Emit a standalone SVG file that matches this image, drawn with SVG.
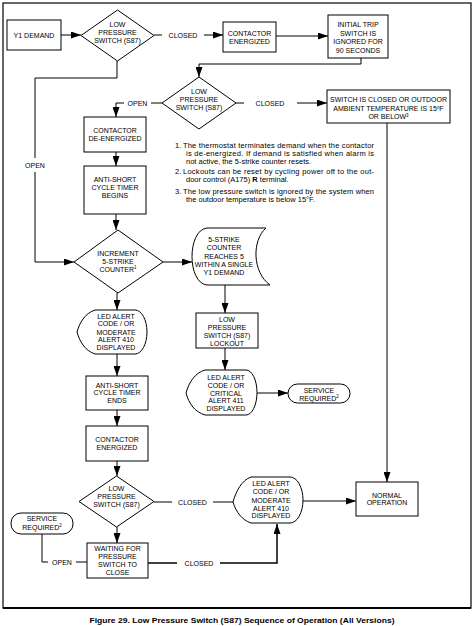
<svg xmlns="http://www.w3.org/2000/svg" width="474" height="626" viewBox="0 0 474 626">
<style>
.s{fill:#fff;stroke:#000;stroke-width:1}
.t{font-family:"Liberation Sans",Arial,sans-serif;font-size:7px;fill:#000;text-anchor:middle}
.n{font-family:"Liberation Sans",Arial,sans-serif;font-size:7.5px;fill:#000}
.c{fill:none;stroke:#000;stroke-width:1}
.k{fill:none;stroke:#000;stroke-width:1.5}
</style>
<defs>
<marker id="a" markerUnits="userSpaceOnUse" markerWidth="10" markerHeight="7" refX="10" refY="3.5" orient="auto"><path d="M0,0 L10,3.5 L0,7 Z" fill="#000"/></marker>
</defs>
<rect width="474" height="626" fill="#fff"/>
<rect x="3" y="3" width="468" height="605" fill="none" stroke="#000" stroke-width="1.2"/>
<line x1="3" y1="608" x2="471" y2="608" stroke="#000" stroke-width="1.8"/>

<g id="connectors">
<line class="c" x1="61" y1="35" x2="81" y2="35" marker-end="url(#a)"/>
<line class="c" x1="154" y1="35" x2="162" y2="35"/>
<line class="c" x1="204" y1="35" x2="223" y2="35" marker-end="url(#a)"/>
<line class="c" x1="276" y1="36" x2="328" y2="36" marker-end="url(#a)"/>
<polyline class="c" points="361,58 361,64 199,64 199,77" marker-end="url(#a)"/>
<line class="c" x1="162" y1="103" x2="151" y2="103"/>
<polyline class="c" points="124,103 116,103 116,117" marker-end="url(#a)"/>
<line class="c" x1="236" y1="103" x2="244" y2="103"/>
<line class="c" x1="297" y1="103" x2="327" y2="103" marker-end="url(#a)"/>
<line class="c" x1="387" y1="123" x2="387" y2="482" marker-end="url(#a)"/>
<polyline class="c" points="117,61 117,78 35,78 35,158"/>
<polyline class="c" points="35,172 35,262 74,262" marker-end="url(#a)"/>
<line class="c" x1="116" y1="152" x2="116" y2="166" marker-end="url(#a)"/>
<line class="c" x1="116" y1="214" x2="116" y2="230" marker-end="url(#a)"/>
<line class="c" x1="163" y1="262" x2="192" y2="262" marker-end="url(#a)"/>
<line class="c" x1="117" y1="293" x2="117" y2="310" marker-end="url(#a)"/>
<line class="c" x1="225" y1="285" x2="225" y2="313" marker-end="url(#a)"/>
<line class="c" x1="225" y1="348" x2="225" y2="370" marker-end="url(#a)"/>
<line class="c" x1="256" y1="393" x2="288" y2="393" marker-end="url(#a)"/>
<line class="c" x1="117" y1="354" x2="117" y2="376" marker-end="url(#a)"/>
<line class="c" x1="117" y1="410" x2="117" y2="426" marker-end="url(#a)"/>
<line class="c" x1="117" y1="461" x2="117" y2="476" marker-end="url(#a)"/>
<line class="c" x1="154" y1="502" x2="172" y2="502"/>
<line class="c" x1="213" y1="502" x2="233" y2="502"/>
<line class="c" x1="303" y1="501" x2="356" y2="501" marker-end="url(#a)"/>
<line class="c" x1="117" y1="527" x2="117" y2="543" marker-end="url(#a)"/>
<line class="c" x1="87" y1="562" x2="76" y2="562"/>
<polyline class="c" points="48,562 42,562 42,534"/>
<line class="k" x1="148" y1="563" x2="177" y2="563"/>
<polyline class="k" points="220,563 277,563 277,524" marker-end="url(#a)"/>
<text class="t" x="183" y="37.5">CLOSED</text>
<text class="t" x="137.5" y="105.5">OPEN</text>
<text class="t" x="270" y="105.5">CLOSED</text>
<text class="t" x="35" y="167.5">OPEN</text>
<text class="t" x="192.5" y="504.5">CLOSED</text>
<text class="t" x="62" y="564.5">OPEN</text>
<text class="t" x="199" y="565.5">CLOSED</text>
</g>

<g id="y1demand">
<rect class="s" x="7" y="20" width="54" height="30"/>
<text class="t" x="34" y="37.5">Y1 DEMAND</text>
</g>
<g id="lps1">
<polygon class="s" points="117.5,10 154,35.5 117.5,61 81,35.5"/>
<text class="t" x="117.5" y="27">LOW</text>
<text class="t" x="117.5" y="35">PRESSURE</text>
<text class="t" x="117.5" y="43">SWITCH (S87)</text>
</g>
<g id="contactor1">
<rect class="s" x="223" y="22" width="53" height="30"/>
<text class="t" x="249.5" y="35.5">CONTACTOR</text>
<text class="t" x="249.5" y="43.5">ENERGIZED</text>
</g>
<g id="initialtrip">
<rect class="s" x="328" y="15" width="60" height="43"/>
<text class="t" x="358" y="27">INITIAL TRIP</text>
<text class="t" x="358" y="35.5">SWITCH IS</text>
<text class="t" x="358" y="44">IGNORED FOR</text>
<text class="t" x="358" y="52.5">90 SECONDS</text>
</g>
<g id="lps2">
<polygon class="s" points="199,77 236,103 199,129 162,103"/>
<text class="t" x="199" y="93.5">LOW</text>
<text class="t" x="199" y="101.5">PRESSURE</text>
<text class="t" x="199" y="109.5">SWITCH (S87)</text>
</g>
<g id="switchclosed">
<rect class="s" x="327" y="90" width="123" height="33"/>
<text class="t" x="388.5" y="102">SWITCH IS CLOSED OR OUTDOOR</text>
<text class="t" x="388.5" y="110.5">AMBIENT TEMPERATURE IS 15ºF</text>
<text class="t" x="388.5" y="119">OR BELOW<tspan font-size="4.5" dy="-2.5">3</tspan></text>
</g>
<g id="deenergized">
<rect class="s" x="84" y="117" width="62" height="35"/>
<text class="t" x="115" y="133">CONTACTOR</text>
<text class="t" x="115" y="141">DE-ENERGIZED</text>
</g>
<g id="asctbegins">
<rect class="s" x="84" y="166" width="62" height="48"/>
<text class="t" x="115" y="181.5">ANTI-SHORT</text>
<text class="t" x="115" y="189.5">CYCLE TIMER</text>
<text class="t" x="115" y="197.5">BEGINS</text>
</g>
<g id="notes">
<text class="n" x="175" y="147.5">1.</text>
<text class="n" x="183" y="147.5" textLength="191" lengthAdjust="spacing">The thermostat terminates demand when the contactor</text>
<text class="n" x="186" y="156" textLength="188" lengthAdjust="spacing">is de-energized. If demand is satisfied when alarm is</text>
<text class="n" x="186" y="164">not active, the 5-strike counter resets.</text>
<text class="n" x="175" y="174">2.</text>
<text class="n" x="183" y="174" textLength="191" lengthAdjust="spacing">Lockouts can be reset by cycling power off to the out-</text>
<text class="n" x="186" y="182">door control (A175) <tspan font-weight="bold">R</tspan> terminal.</text>
<text class="n" x="175" y="193.5">3.</text>
<text class="n" x="183" y="193.5" textLength="191" lengthAdjust="spacing">The low pressure switch is ignored by the system when</text>
<text class="n" x="186" y="201.5">the outdoor temperature is below 15°F.</text>
</g>
<g id="increment">
<polygon class="s" points="118,230 163,262 118,293 74,262"/>
<text class="t" x="118" y="255.5">INCREMENT</text>
<text class="t" x="118" y="263.5">5-STRIKE</text>
<text class="t" x="118" y="271.5">COUNTER<tspan font-size="4.5" dy="-2.5">1</tspan></text>
</g>
<g id="fivestrike">
<path class="s" d="M207,228 L266,228 C252,240 252,272 270,285 L207,285 C187,283 187,230 207,228 Z"/>
<text class="t" x="224" y="241.5">5-STRIKE</text>
<text class="t" x="224" y="250">COUNTER</text>
<text class="t" x="224" y="258.5">REACHES 5</text>
<text class="t" x="224" y="267">WITHIN A SINGLE</text>
<text class="t" x="224" y="275">Y1 DEMAND</text>
</g>
<g id="lockout">
<rect class="s" x="196" y="313" width="62" height="35"/>
<text class="t" x="227" y="321.5">LOW</text>
<text class="t" x="227" y="329.5">PRESSURE</text>
<text class="t" x="227" y="337.5">SWITCH (S87)</text>
<text class="t" x="227" y="345.5">LOCKOUT</text>
</g>
<g id="critical">
<path class="s" d="M186,393 C189,382 195,373 205,370 L246,370 A11,22.5 0 0 1 246,415 L205,415 C195,412 189,404 186,393 Z"/>
<text class="t" x="226" y="379.5">LED ALERT</text>
<text class="t" x="226" y="387.5">CODE / OR</text>
<text class="t" x="226" y="395.5">CRITICAL</text>
<text class="t" x="226" y="403">ALERT 411</text>
<text class="t" x="226" y="411">DISPLAYED</text>
</g>
<g id="service1">
<rect class="s" x="288" y="384" width="62" height="19" rx="9.5"/>
<text class="t" x="319" y="392.5">SERVICE</text>
<text class="t" x="319" y="400.5">REQUIRED<tspan font-size="4.5" dy="-2.5">2</tspan></text>
</g>
<g id="moderate1">
<path class="s" d="M77,332 C80,321 86,313 95,310 L135,310 A12,22 0 0 1 135,354 L95,354 C86,351 80,343 77,332 Z"/>
<text class="t" x="116" y="318.5">LED ALERT</text>
<text class="t" x="116" y="326">CODE / OR</text>
<text class="t" x="116" y="334.5">MODERATE</text>
<text class="t" x="116" y="342">ALERT 410</text>
<text class="t" x="116" y="350">DISPLAYED</text>
</g>
<g id="asctends">
<rect class="s" x="86" y="376" width="62" height="34"/>
<text class="t" x="117" y="387.5">ANTI-SHORT</text>
<text class="t" x="117" y="395">CYCLE TIMER</text>
<text class="t" x="117" y="403">ENDS</text>
</g>
<g id="contactor2">
<rect class="s" x="86" y="426" width="62" height="35"/>
<text class="t" x="117" y="441.5">CONTACTOR</text>
<text class="t" x="117" y="449.5">ENERGIZED</text>
</g>
<g id="lps3">
<polygon class="s" points="116.5,476 154,501.5 116.5,527 79,501.5"/>
<text class="t" x="116.5" y="490.5">LOW</text>
<text class="t" x="116.5" y="498.5">PRESSURE</text>
<text class="t" x="116.5" y="506.5">SWITCH (S87)</text>
</g>
<g id="moderate2">
<path class="s" d="M233,502 C236,491 242,480 251,477 L290,477 A13,23 0 0 1 290,523 L251,523 C242,520 236,512 233,502 Z"/>
<text class="t" x="271" y="485.5">LED ALERT</text>
<text class="t" x="271" y="494">CODE / OR</text>
<text class="t" x="271" y="502.5">MODERATE</text>
<text class="t" x="271" y="510.5">ALERT 410</text>
<text class="t" x="271" y="518">DISPLAYED</text>
</g>
<g id="normal">
<rect class="s" x="356" y="482" width="62" height="34"/>
<text class="t" x="387" y="497.5">NORMAL</text>
<text class="t" x="387" y="505">OPERATION</text>
</g>
<g id="waiting">
<rect class="s" x="87" y="543" width="61" height="35"/>
<text class="t" x="117.5" y="550.5">WAITING FOR</text>
<text class="t" x="117.5" y="558.5">PRESSURE</text>
<text class="t" x="117.5" y="566.5">SWITCH TO</text>
<text class="t" x="117.5" y="574.5">CLOSE</text>
</g>
<g id="service2">
<rect class="s" x="11" y="513" width="62" height="21" rx="10"/>
<text class="t" x="42" y="520.5">SERVICE</text>
<text class="t" x="42" y="529.5">REQUIRED<tspan font-size="4.5" dy="-2.5">2</tspan></text>
</g>
<text x="242" y="623" font-family="'Liberation Sans',Arial,sans-serif" font-size="7.8" font-weight="bold" text-anchor="middle" textLength="305" lengthAdjust="spacingAndGlyphs">Figure 29. Low Pressure Switch (S87) Sequence of Operation (All Versions)</text>
</svg>
